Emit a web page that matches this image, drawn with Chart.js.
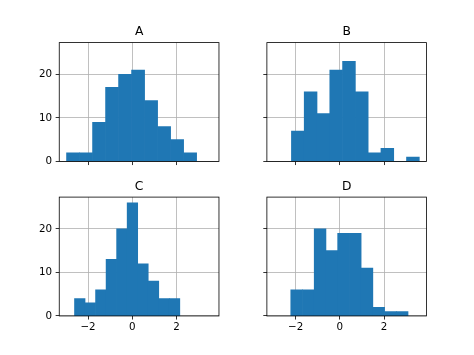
<!DOCTYPE html>
<html>
<head>
<meta charset="utf-8">
<title>Histograms A-D</title>
<script src="https://cdn.jsdelivr.net/npm/chart.js"></script>
<style>
  body { margin: 0; background: #fff; }
  #fig { position: relative; width: 474px; height: 355px; }
  #fig canvas { position: absolute; left: 0; top: 0; }
</style>
</head>
<body>
<div id="fig">
  <canvas id="h0" width="474" height="355"></canvas>
  <canvas id="h1" width="474" height="355"></canvas>
  <canvas id="h2" width="474" height="355"></canvas>
  <canvas id="h3" width="474" height="355"></canvas>
</div>
<script>
// one histogram per column, 10 bins each
const names = ['A', 'B', 'C', 'D'];
const binLo = [-2.97, -2.19, -2.61, -2.22];
const binHi = [2.91, 3.59, 2.15, 3.08];
const countsA = [2, 2, 9, 17, 20, 21, 14, 8, 5, 2];
const countsB = [7, 16, 11, 21, 23, 16, 2, 3, 0, 1];
const countsC = [4, 3, 6, 13, 20, 26, 12, 8, 4, 4];
const countsD = [6, 6, 20, 15, 19, 19, 11, 2, 1, 1];
const counts = [countsA, countsB, countsC, countsD];
const xTicks = [-2, 0, 2];
const yTicks = [0, 10, 20];
const xRange = [-3.30, 3.92];
const yRange = [0, 27.3];

Chart.defaults.font.family = 'DejaVu Sans';
Chart.defaults.font.size = 10.3;
Chart.defaults.color = '#000';

// subplot grid like matplotlib (wspace = hspace = 0.3)
const W = 474, H = 355;
const axL = 0.125 * W, axR = 0.9 * W, axT = 0.12 * H, axB = 0.89 * H;
const cw = (axR - axL) / 2.3, ch = (axB - axT) / 2.3;
const yAxisW = 30, xAxisH = 22, titleH = 17.88;

const frame = {
    id: 'frame',
    afterDraw(chart) {
        const a = chart.chartArea, ctx = chart.ctx;
        ctx.save();
        ctx.strokeStyle = '#000';
        ctx.lineWidth = 0.8;
        ctx.strokeRect(a.left, a.top, a.right - a.left, a.bottom - a.top);
        ctx.restore();
    }
};

const minus = v => v < 0 ? '\u2212' + Math.abs(v) : String(v);

names.forEach((name, i) => {
    const col = i % 2, row = Math.floor(i / 2);
    const left = axL + col * cw * 1.3;
    const top = axT + row * ch * 1.3;
    const step = (binHi[i] - binLo[i]) / counts[i].length;
    const data = counts[i].map((c, k) => ({ x: binLo[i] + step * (k + 0.5), y: c }));

    new Chart(document.getElementById('h' + i), {
        type: 'bar',
        data: {
            datasets: [{
                data: data,
                backgroundColor: '#1f77b4',
                borderWidth: 0,
                barPercentage: 1,
                categoryPercentage: 1
            }]
        },
        plugins: [frame],
        options: {
            responsive: false,
            animation: false,
            devicePixelRatio: 1,
            layout: {
                padding: {
                    left: left - yAxisW,
                    right: W - (left + cw),
                    top: top - titleH,
                    bottom: H - (top + ch) - xAxisH
                }
            },
            plugins: {
                legend: { display: false },
                tooltip: { enabled: false },
                title: {
                    display: true,
                    fullSize: false,
                    text: name,
                    color: '#000',
                    font: { size: 12.3, weight: 'normal' },
                    padding: { top: 0, bottom: 3.12 }
                }
            },
            scales: {
                x: {
                    type: 'linear',
                    min: xRange[0],
                    max: xRange[1],
                    offset: false,
                    z: 1,
                    afterBuildTicks: s => { s.ticks = xTicks.map(v => ({ value: v })); },
                    afterFit: s => { s.height = xAxisH; },
                    grid: { offset: false, color: '#b0b0b0', lineWidth: 0.8, tickColor: '#000', tickWidth: 0.8, tickLength: 3.6 },
                    border: { display: false },
                    ticks: { display: row === 1, padding: 1.4, maxRotation: 0, callback: minus }
                },
                y: {
                    min: yRange[0],
                    max: yRange[1],
                    z: 1,
                    afterBuildTicks: s => { s.ticks = yTicks.map(v => ({ value: v })); },
                    afterFit: s => { s.width = yAxisW; },
                    grid: { color: '#b0b0b0', lineWidth: 0.8, tickColor: '#000', tickWidth: 0.8, tickLength: 3.6 },
                    border: { display: false },
                    ticks: { display: col === 0, padding: 3.6, callback: minus }
                }
            }
        }
    });
});
</script>
</body>
</html>
